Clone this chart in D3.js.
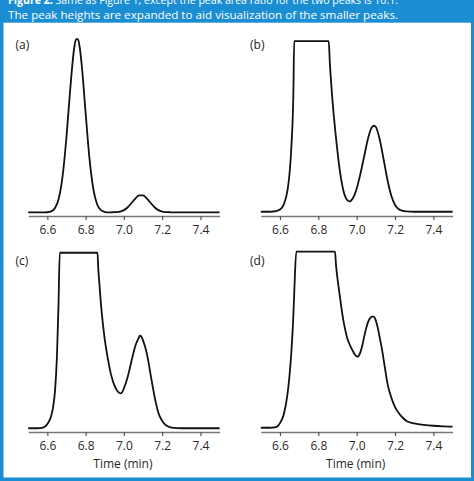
<!DOCTYPE html>
<html>
<head>
<meta charset="utf-8">
<script src="https://cdn.jsdelivr.net/npm/d3@7"></script>
<style>
	html, body { margin: 0; padding: 0; background: #1a8dd3; }
	svg { display: block; }
	.caption { fill: #fff; font-family: 'Open Sans', sans-serif; font-size: 11.5px; }
	.plabel { fill: #222; font-family: 'Open Sans', sans-serif; font-size: 12px; }
	.xaxis path.domain { stroke: #777; stroke-width: 1.7px; }
	.xaxis line { stroke: #555; stroke-width: 1.2px; }
	.xaxis text { fill: #2a2a2a; font-family: 'Open Sans', sans-serif; font-size: 12px; }
	.xtitle { fill: #2a2a2a; font-family: 'Open Sans', sans-serif; font-size: 12px; }
	.trace { fill: none; stroke: #111; stroke-width: 1.8px; stroke-linejoin: round; }
</style>
</head>
<body>
<script>
var WIDTH = 474, HEIGHT = 481;

// x axis
var TIME_RANGE = [6.5, 7.5];
var TICKS = [6.6, 6.8, 7.0, 7.2, 7.4];
var PANEL_LABELS = ['(a)', '(b)', '(c)', '(d)'];
var AXIS_TITLE = 'Time (min)';

var CAPTION_BOLD = 'Figure 2:';
var CAPTION_1 = ' Same as Figure 1, except the peak area ratio for the two peaks is 10:1.';
var CAPTION_2 = 'The peak heights are expanded to aid visualization of the smaller peaks.';

// traces (signal in % of the plot height)
var time_a = [6.50, 6.54, 6.58, 6.60, 6.62, 6.64, 6.66, 6.68, 6.70, 6.72, 6.74, 6.75, 6.76, 6.77, 6.78, 6.80,
	6.82, 6.84, 6.86, 6.88, 6.90, 6.92, 6.94, 6.96, 6.98, 7.00, 7.02, 7.04, 7.06, 7.08, 7.10, 7.12,
	7.14, 7.16, 7.18, 7.20, 7.22, 7.24, 7.26, 7.30, 7.40, 7.50];
var signal_a = [2.0, 2.0, 2.0, 2.1, 2.6, 4.5, 10.0, 22.7, 44.4, 71.8, 94.1, 99.3, 99.3, 94.1, 84.4, 57.9,
	32.5, 15.3, 6.6, 3.3, 2.3, 2.0, 2.1, 2.2, 2.5, 3.3, 4.9, 7.3, 9.8, 11.6, 11.6, 9.8,
	7.3, 4.9, 3.3, 2.5, 2.2, 2.1, 2.0, 2.0, 2.0, 2.0];

var time_b = [6.50, 6.54, 6.56, 6.58, 6.60, 6.62, 6.64, 6.65, 6.66, 6.67, 6.674, 6.854, 6.86, 6.87, 6.88,
	6.89, 6.90, 6.91, 6.92, 6.93, 6.94, 6.95, 6.962, 6.97, 6.98, 7.00, 7.02, 7.04, 7.06, 7.08, 7.09,
	7.10, 7.12, 7.14, 7.16, 7.18, 7.20, 7.22, 7.24, 7.26, 7.30, 7.40, 7.50];
var signal_b = [2.4, 2.4, 2.5, 2.8, 3.6, 6.5, 15, 24, 40, 70, 98.3, 98.3, 86, 70, 57,
	46, 36, 27, 20, 14.5, 11, 9, 8.2, 8.6, 10, 15.5, 24, 34, 44, 50, 50.7,
	50, 43, 32, 20.5, 11.5, 6.2, 3.8, 2.9, 2.6, 2.4, 2.4, 2.4];

var time_c = [6.50, 6.54, 6.56, 6.58, 6.60, 6.62, 6.63, 6.64, 6.65, 6.658, 6.665, 6.862, 6.866, 6.87, 6.88,
	6.89, 6.90, 6.91, 6.92, 6.93, 6.94, 6.95, 6.96, 6.97, 6.982, 6.99, 7.00, 7.02, 7.04, 7.06, 7.08,
	7.083, 7.09, 7.10, 7.12, 7.14, 7.16, 7.18, 7.20, 7.22, 7.24, 7.26, 7.30, 7.40, 7.50];
var signal_c = [2.1, 2.1, 2.2, 2.6, 4.5, 9, 14, 23, 42, 70, 100.7, 100.7, 92, 86, 72,
	61, 52, 45, 39, 33.5, 29.5, 26.3, 24, 22.5, 21.7, 22.2, 24.5, 31, 40, 48.5, 53.5,
	54.1, 53.8, 51.5, 44, 32, 20, 10.8, 6.2, 3.8, 2.7, 2.3, 2.1, 2.1, 2.1];

var time_d = [6.50, 6.54, 6.56, 6.58, 6.60, 6.62, 6.64, 6.65, 6.66, 6.67, 6.675, 6.685, 6.887, 6.892, 6.90,
	6.91, 6.92, 6.93, 6.94, 6.95, 6.96, 6.97, 6.98, 6.99, 7.003, 7.01, 7.02, 7.03, 7.04, 7.05, 7.06,
	7.07, 7.08, 7.087, 7.095, 7.10, 7.11, 7.12, 7.13, 7.14, 7.15, 7.16, 7.17, 7.18, 7.19, 7.20, 7.22,
	7.24, 7.26, 7.28, 7.30, 7.35, 7.40, 7.45, 7.50];
var signal_d = [2.4, 2.4, 2.5, 2.7, 5.0, 10, 22, 32, 46, 66, 80, 101.3, 101.3, 94, 86,
	78, 70, 63, 57.5, 53, 50, 47.5, 45.5, 43.5, 42.3, 42.8, 45, 49, 54, 58.5, 62,
	64, 64.8, 64.8, 64, 62.5, 58.5, 53, 47.5, 41, 34, 27.5, 23, 19.5, 16.5, 14, 10.5,
	8, 6.2, 5.3, 4.8, 4.0, 3.5, 3.2, 3.0];

var TIMES = [time_a, time_b, time_c, time_d];
var SIGNALS = [signal_a, signal_b, signal_c, signal_d];

// layout
var COL_X = [[28.2, 219.6], [260.8, 452.6]];
var ROW_AXIS = [216, 432];
var PLOT_H = 178;
var LABEL_X = [15.5, 250];

var svg = d3.select('body').append('svg')
	.attr('width', WIDTH)
	.attr('height', HEIGHT);

svg.append('rect')
	.attr('x', 0).attr('y', 0)
	.attr('width', WIDTH).attr('height', HEIGHT)
	.attr('fill', '#1a8dd3');

svg.append('rect')
	.attr('x', 3.5).attr('y', 22.7)
	.attr('width', 467.5).attr('height', 454.8)
	.attr('fill', '#fff');

/** caption, top line is cut off by the crop */
var cap1 = svg.append('text').attr('class', 'caption')
	.attr('x', 8).attr('y', 4)
	.attr('textLength', 390).attr('lengthAdjust', 'spacingAndGlyphs');
cap1.append('tspan').attr('font-weight', 'bold').text(CAPTION_BOLD);
cap1.append('tspan').text(CAPTION_1);

svg.append('text').attr('class', 'caption')
	.attr('x', 8).attr('y', 19)
	.attr('textLength', 390).attr('lengthAdjust', 'spacingAndGlyphs')
	.text(CAPTION_2);

var draw_panel = function (i) {
	var col = i % 2, row = Math.floor(i / 2);
	var axisY = ROW_AXIS[row];

	var x = d3.scaleLinear().domain(TIME_RANGE).range(COL_X[col]);
	var y = d3.scaleLinear().domain([0, 100]).range([axisY, axisY - PLOT_H]);

	var g = svg.append('g').attr('class', 'panel');

	var axis = d3.axisBottom(x)
		.tickValues(TICKS)
		.tickFormat(d3.format('.1f'))
		.tickSize(4)
		.tickSizeOuter(0)
		.tickPadding(5);

	g.append('g')
		.attr('class', 'xaxis')
		.attr('transform', 'translate(0,' + axisY + ')')
		.call(axis);

	var pts = TIMES[i].map(function (t, k) { return [t, SIGNALS[i][k]]; });

	var line = d3.line()
		.x(function (d) { return x(d[0]); })
		.y(function (d) { return y(d[1]); })
		.curve(d3.curveMonotoneX);

	g.append('path')
		.attr('class', 'trace')
		.attr('d', line(pts));

	g.append('text')
		.attr('class', 'plabel')
		.attr('x', LABEL_X[col])
		.attr('y', axisY - 167.5)
		.text(PANEL_LABELS[i]);

	if (row == 1) {
		g.append('text')
			.attr('class', 'xtitle')
			.attr('x', (COL_X[col][0] + COL_X[col][1]) / 2 - 1)
			.attr('y', axisY + 35.5)
			.attr('text-anchor', 'middle')
			.text(AXIS_TITLE);
	}
};

for (var i = 0; i < 4; i++) draw_panel(i);
</script>
</body>
</html>
